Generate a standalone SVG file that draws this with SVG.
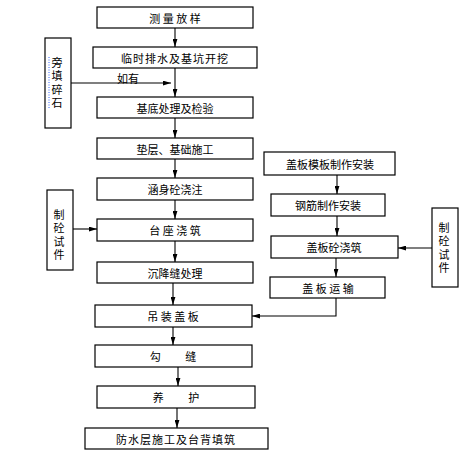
<svg xmlns="http://www.w3.org/2000/svg" width="467" height="451" viewBox="0 0 467 451">
<style>
rect{fill:#fff;stroke:#000;stroke-width:1.2}
text{font-family:"Noto Sans CJK SC","Liberation Sans",sans-serif;font-size:11px;fill:#000;text-anchor:middle;dominant-baseline:central}
text.v{writing-mode:vertical-rl;letter-spacing:2.5px}
.c line,.c path{stroke:#000;stroke-width:1.1;fill:none}
</style>
<defs>
<marker id="a" viewBox="0 0 10 6" refX="10" refY="3" markerWidth="8" markerHeight="5" markerUnits="userSpaceOnUse" orient="auto"><path d="M0,0L10,3L0,6z" fill="#000"/></marker>
</defs>
<rect x="0" y="0" width="467" height="451" style="stroke:none"/>
<g id="n1"><rect x="97" y="7" width="156" height="21"/><text x="175" y="17.5">测 量 放 样</text></g>
<g id="n2"><rect x="93" y="47" width="164" height="21"/><text x="175" y="57.5" style="letter-spacing:1px">临时排水及基坑开挖</text></g>
<g id="n3"><rect x="97" y="97" width="156" height="21"/><text x="175" y="107.5">基底处理及检验</text></g>
<g id="n4"><rect x="97" y="138" width="156" height="21"/><text x="175" y="148.5">垫层、基础施工</text></g>
<g id="n5"><rect x="97" y="178" width="156" height="22"/><text x="175" y="189">涵身砼浇注</text></g>
<g id="n6"><rect x="97" y="219" width="156" height="22"/><text x="175" y="230">台 座 浇 筑</text></g>
<g id="n7"><rect x="97" y="262" width="156" height="21"/><text x="175" y="272.5">沉降缝处理</text></g>
<g id="n8"><rect x="95" y="305" width="157" height="22"/><text x="173" y="316">吊 装 盖 板</text></g>
<g id="n9"><rect x="95" y="345" width="157" height="22"/><text x="173" y="356" xml:space="preserve">勾          缝</text></g>
<g id="n10"><rect x="97" y="386" width="158" height="22"/><text x="176" y="397" xml:space="preserve">养          护</text></g>
<g id="n11"><rect x="85" y="428" width="183" height="21"/><text x="176" y="438.5" style="letter-spacing:1px">防水层施工及台背填筑</text></g>
<g id="l1"><rect x="45" y="38" width="26" height="90"/><line x1="49" y1="57" x2="49" y2="108" stroke="#36f" stroke-width="1" stroke-dasharray="1,1.5"/><text class="v" x="57" y="84">旁填碎石</text></g>
<g id="l2"><rect x="47" y="190" width="26" height="80"/><text class="v" x="59" y="236">制砼试件</text></g>
<g id="r1"><rect x="264" y="152" width="131" height="23"/><text x="330" y="163.5">盖板模板制作安装</text></g>
<g id="r2"><rect x="271" y="194" width="114" height="22"/><text x="328" y="205">钢筋制作安装</text></g>
<g id="r3"><rect x="271" y="236" width="127" height="22"/><text x="334" y="247">盖板砼浇筑</text></g>
<g id="r4"><rect x="270" y="277" width="115" height="21"/><text x="328" y="287.5">盖 板 运 输</text></g>
<g id="rs"><rect x="432" y="208" width="26" height="79"/><text class="v" x="444" y="249">制砼试件</text></g>
<text x="128" y="78">如有</text>
<g class="c">
<line x1="175" y1="28" x2="175" y2="47" marker-end="url(#a)"/>
<line x1="175" y1="68" x2="175" y2="97" marker-end="url(#a)"/>
<line x1="71" y1="83" x2="171" y2="83" marker-end="url(#a)"/>
<line x1="175" y1="118" x2="175" y2="138" marker-end="url(#a)"/>
<line x1="175" y1="159" x2="175" y2="178" marker-end="url(#a)"/>
<line x1="175" y1="200" x2="175" y2="219" marker-end="url(#a)"/>
<line x1="73" y1="229" x2="97" y2="229" marker-end="url(#a)"/>
<line x1="175" y1="241" x2="175" y2="262" marker-end="url(#a)"/>
<line x1="173" y1="283" x2="173" y2="305" marker-end="url(#a)"/>
<line x1="173" y1="327" x2="173" y2="345" marker-end="url(#a)"/>
<line x1="178" y1="367" x2="178" y2="386" marker-end="url(#a)"/>
<line x1="177" y1="408" x2="177" y2="428" marker-end="url(#a)"/>
<line x1="337" y1="175" x2="337" y2="194" marker-end="url(#a)"/>
<line x1="337" y1="216" x2="337" y2="236" marker-end="url(#a)"/>
<line x1="336" y1="258" x2="336" y2="277" marker-end="url(#a)"/>
<line x1="432" y1="248" x2="398" y2="248" marker-end="url(#a)"/>
<path d="M336,298V316H252" marker-end="url(#a)"/>
</g>
</svg>
